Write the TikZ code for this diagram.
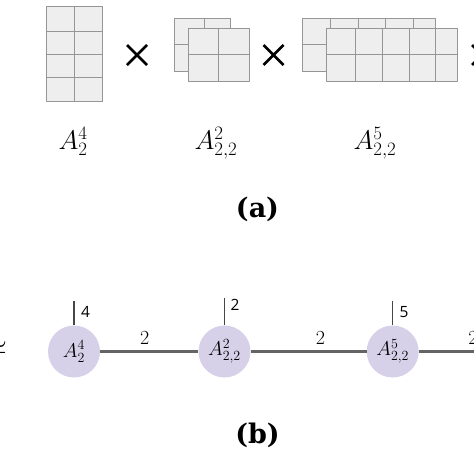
\RequirePackage{fix-cm}
\documentclass[tikz,border=0pt]{standalone}
\usepackage{fontspec}
\newfontfamily\capfont{DejaVu Serif}
\newfontfamily\numfont{Open Sans}
\definecolor{cellfill}{RGB}{238,238,238}
\definecolor{cellgray}{RGB}{150,150,150}
\definecolor{tensorfill}{RGB}{214,208,232}
\definecolor{bondgray}{RGB}{100,100,100}
\definecolor{leggray}{RGB}{70,70,70}
\tikzset{
  arraybox/.style={draw=cellgray, fill=cellfill, line width=0.9pt},
  gridrule/.style={draw=cellgray, line width=0.9pt},
  crossmark/.style={line width=2.8pt, line cap=butt},
  biglabel/.style={anchor=base, inner sep=0pt, font=\fontsize{27}{32}\selectfont},
  tensor/.style={circle, fill=tensorfill, minimum size=52pt, inner sep=0pt, font=\fontsize{20}{22}\selectfont},
  bond/.style={draw=bondgray, line width=2.4pt},
  leg/.style={draw=leggray, line width=1.5pt},
  legnum/.style={inner sep=0pt, font=\numfont\fontsize{15.5}{17}\selectfont},
  edgenum/.style={inner sep=0pt, font=\fontsize{20}{22}\selectfont},
  panel/.style={inner sep=0pt, font=\capfont\bfseries\fontsize{27}{30}\selectfont}
}
\begin{document}
\begin{tikzpicture}[x=1pt, y=-1pt, line join=round]
  \useasboundingbox (0,0) rectangle (474,474);
  \clip (0,0) rectangle (474,474);
  % (a) the three arrays
  \draw[arraybox] (46,6) rectangle (102,101);
  \draw[gridrule] (74,6)--(74,101) (46,31)--(102,31) (46,54)--(102,54) (46,77)--(102,77);
  \draw[arraybox] (174,18) rectangle (230,71);
  \draw[gridrule] (204,18)--(204,71) (174,44.5)--(230,44.5);
  \draw[arraybox] (188,28) rectangle (249,81);
  \draw[gridrule] (218.5,28)--(218.5,81) (188,54.5)--(249,54.5);
  \draw[arraybox] (302,18) rectangle (435,71);
  \draw[gridrule] (302,44.5)--(435,44.5);
  \foreach \gx in {330,358,385,413}
    \draw[gridrule] (\gx,18)--(\gx,71);
  \draw[arraybox] (326,28) rectangle (457,81);
  \draw[gridrule] (326,54.5)--(457,54.5);
  \foreach \gx in {355,382,409,435}
    \draw[gridrule] (\gx,28)--(\gx,81);
  \foreach \cx in {137,273.5,482}
    \draw[crossmark] (\cx-10,45)--(\cx+10,65) (\cx-10,65)--(\cx+10,45);
  \path
    (73,149) node[biglabel] (m1) {$A_2^4$}
    (216,149) node[biglabel] (m2) {$A_{2,2}^2$}
    (375,149) node[biglabel] (m3) {$A_{2,2}^5$};
  \node[panel] (pa) at (257.5,209) {(a)};
  % (b) the network
  \node[inner sep=0pt, font=\fontsize{28}{30}\selectfont] (eq) at (-4,348) {$\simeq$};
  \node[tensor] (t1) at (74,351.5) {$A_2^4$};
  \node[tensor] (t2) at (224.5,351.5) {$A_{2,2}^2$};
  \node[tensor] (t3) at (392.7,351.5) {$A_{2,2}^5$};
  \coordinate (t4) at (540,351.5);
  \draw[bond] (t1) -- (t2);
  \draw[bond] (t2) -- (t3);
  \draw[bond] (t3) -- (t4);
  \draw[leg] (t1.north) -- ++(0,-24) coordinate (o1);
  \draw[leg] (t2.north) -- ++(0,-27) coordinate (o2);
  \draw[leg] (t3.north) -- ++(0,-24) coordinate (o3);
  \path
    (85.5,311.7) node[legnum] (d1) {4}
    (235,304.7) node[legnum] (d2) {2}
    (404,311.7) node[legnum] (d3) {5};
  \path
    (144.7,338) node[edgenum] (b12) {$2$}
    (320.5,338) node[edgenum] (b23) {$2$}
    (473,338) node[edgenum] (b34) {$2$};
  \node[panel] (pb) at (257.5,435) {(b)};
\end{tikzpicture}
\end{document}
